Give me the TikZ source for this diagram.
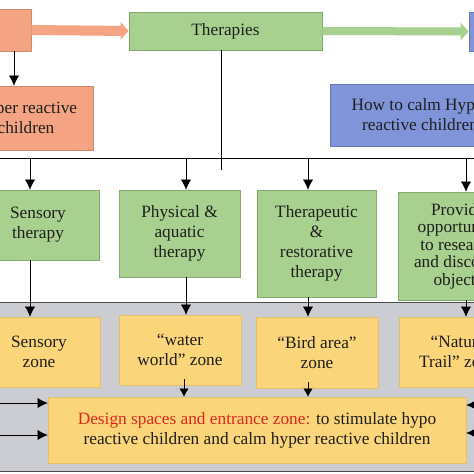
\documentclass[tikz,border=0pt]{standalone}
\usepackage{fontspec}
\setmainfont{Liberation Serif}
\usetikzlibrary{arrows.meta}
\definecolor{boxorange}{RGB}{244,164,130}
\definecolor{boxgreen}{RGB}{168,208,142}
\definecolor{boxblue}{RGB}{128,148,218}
\definecolor{boxyellow}{RGB}{251,213,122}
\definecolor{bggrey}{RGB}{204,205,210}
\definecolor{designred}{RGB}{222,40,30}
\begin{document}
\begin{tikzpicture}[x=1pt, y=-1pt, >={Latex[length=10pt,width=10pt]},
    box/.style={draw, line width=0.7pt, inner sep=0pt, align=center,
        text=black!88, font=\fontsize{17.3}{20}\selectfont},
    orangebox/.style={box, fill=boxorange, draw=boxorange!85!black},
    greenbox/.style={box, fill=boxgreen, draw=boxgreen!80!black},
    bluebox/.style={box, fill=boxblue, draw=boxblue!80!black},
    zonebox/.style={box, fill=boxyellow, draw=boxyellow!90!black},
    fatarrow/.style={-{Triangle[length=8pt,width=17pt]}}]
    \useasboundingbox (0,0) rectangle (474,474);
    \clip (0,0) rectangle (474,474);
    \fill[white] (0,0) rectangle (474,474);
    % top row
    \node[orangebox, minimum width=80pt, minimum height=42pt] (start) at (-9,30) {};
    \node[greenbox, minimum width=193pt, minimum height=38pt] (therapies) at (225.5,31) {Therapies};
    \node[bluebox, minimum width=91pt, minimum height=39pt] (goal) at (514.5,31.5) {};
    \draw[fatarrow, line width=10pt, boxorange] (start.east) -- (therapies.west);
    \draw[fatarrow, line width=8pt, boxgreen] (therapies.east) -- (goal.west);
    \node[orangebox, minimum width=134pt, minimum height=64pt] (hyper) at (26,118) {Hyper reactive\\children};
    \node[bluebox, minimum width=180pt, minimum height=62pt] (calm) at (420,115) {How to calm Hyper\\reactive children};
    \draw[->] (start.south -| 14,0) -- (hyper.north -| 14,0);
    % bus
    \coordinate (busL) at (-5,158);
    \coordinate (busR) at (480,158);
    \draw[line width=0.7pt] (busL) -- (busR);
    \draw[line width=0.7pt] ([xshift=-4.5pt]therapies.south) -- ++(0,120);
    % therapies
    \node[greenbox, minimum width=122pt, minimum height=70pt] (sensT) at (38,225) {Sensory\\therapy};
    \node[greenbox, minimum width=121pt, minimum height=87pt] (physT) at (179.5,233.5) {Physical \&\\aquatic\\therapy};
    \node[greenbox, minimum width=119pt, minimum height=107pt] (theraT) at (316.5,243.5) {Therapeutic\\\&\\restorative\\therapy};
    \node[greenbox, minimum width=120pt, minimum height=108pt, font=\fontsize{17.3}{17.5}\selectfont] (provT) at (458,246) {Provide\\opportunity\\to research\\and discover\\objects};
    \foreach \x/\t in {30/sensT,186/physT,308/theraT,466/provT}
        \draw[->] (\x,158) -- (\t.north -| \x,0);
    % zones
    \draw[fill=bggrey, draw=black!70, line width=1pt] (-5,302) rectangle (480,471);
    \node[zonebox, minimum width=122pt, minimum height=70pt] (sensZ) at (39,352) {Sensory\\zone};
    \node[zonebox, minimum width=122pt, minimum height=70pt] (waterZ) at (180,350) {“water\\world” zone};
    \node[zonebox, minimum width=122pt, minimum height=71pt] (birdZ) at (317,352.5) {“Bird area”\\zone};
    \node[zonebox, minimum width=118pt, minimum height=70pt] (natZ) at (458,352) {“Nature\\Trail” zone};
    \foreach \x/\a/\b in {30/sensT/sensZ,186/physT/waterZ,308/theraT/birdZ,466/provT/natZ}
        \draw[->] (\a.south -| \x,0) -- (\b.north -| \x,0);
    \node[zonebox, minimum width=418pt, minimum height=66pt] (design) at (257,430)
        {\textcolor{designred}{Design spaces and entrance zone:} to stimulate hypo\\reactive children and calm hyper reactive children};
    \foreach \x/\a in {184/waterZ,308/birdZ}
        \draw[-{Latex[length=8pt,width=9pt]}] ([yshift=6pt]\a.south -| \x,0) -- (design.north -| \x,0);
    \foreach \y in {403,435}
        \draw[->] (-5,\y) -- (design.west |- 0,\y);
    \foreach \y in {405,433}
        \draw[->] (480,\y) -- (design.east |- 0,\y);
\end{tikzpicture}
\end{document}
